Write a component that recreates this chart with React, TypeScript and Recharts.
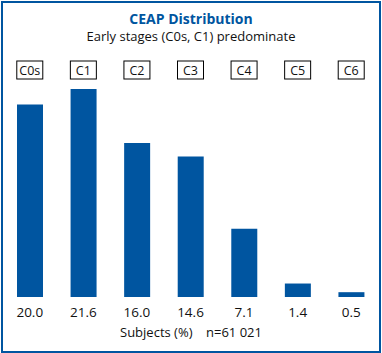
import { Bar, BarChart, XAxis, YAxis } from "recharts";

const stages = ["C0s", "C1", "C2", "C3", "C4", "C5", "C6"];
const subjectsPct = [20.0, 21.6, 16.0, 14.6, 7.1, 1.4, 0.5];

const BLUE = "#0055a0";
const FONT = "'Open Sans', 'Noto Sans', sans-serif";

const data = stages.map((stage, i) => ({
  stage,
  pct: subjectsPct[i],
  label: subjectsPct[i].toFixed(1),
}));

function StageTick({ x, y, payload }: any) {
  const w = 26;
  const h = 18;
  return (
    <g>
      <rect x={x - w / 2} y={y - 28} width={w} height={h} fill="#fff" stroke="#000" strokeWidth={1} />
      <text x={x} y={y - 14.5} textAnchor="middle" fontSize={12.5} fontFamily={FONT} fill="#111">
        {payload.value}
      </text>
    </g>
  );
}

function ValueTick({ x, y, payload }: any) {
  return (
    <text x={x} y={y + 20} textAnchor="middle" fontSize={13.5} fontFamily={FONT} fill="#111">
      {payload.value}
    </text>
  );
}

export default function App() {
  return (
    <div style={{ position: "absolute", left: 0, top: 0, width: 382, height: 353, background: "#fff" }}>
      <div
        style={{
          position: "absolute",
          left: 1,
          top: 1,
          width: 376,
          height: 348,
          border: `2px solid ${BLUE}`,
        }}
      />
      <BarChart
        width={382}
        height={353}
        data={data}
        margin={{ top: 59, right: 4, bottom: 26, left: 3 }}
        barSize={26}
      >
        <text x={191} y={24} textAnchor="middle" fontSize={14} fontWeight="bold" fontFamily={FONT} fill={BLUE}>
          CEAP Distribution
        </text>
        <text x={191} y={41} textAnchor="middle" fontSize={13} fontFamily={FONT} fill="#111">
          Early stages (C0s, C1) predominate
        </text>
        <XAxis
          xAxisId="top"
          dataKey="stage"
          orientation="top"
          axisLine={false}
          tickLine={false}
          tickSize={0}
          tickMargin={0}
          height={30}
          tick={<StageTick />}
        />
        <XAxis
          xAxisId="bottom"
          dataKey="label"
          orientation="bottom"
          axisLine={false}
          tickLine={false}
          tickSize={0}
          tickMargin={0}
          height={30}
          tick={<ValueTick />}
        />
        <YAxis hide domain={[0, 21.6]} />
        <Bar xAxisId="top" dataKey="pct" fill={BLUE} isAnimationActive={false} />
        <text x={191} y={337} textAnchor="middle" fontSize={13} fontFamily={FONT} fill="#111" xmlSpace="preserve">
          Subjects (%)    n=61 021
        </text>
      </BarChart>
    </div>
  );
}
